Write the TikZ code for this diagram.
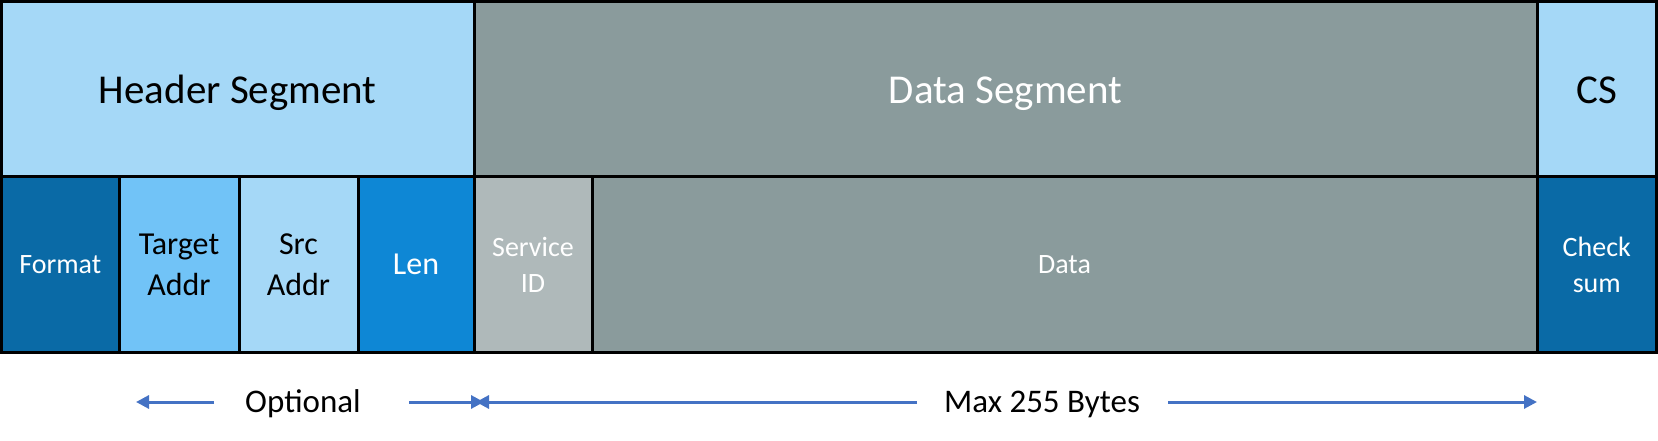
\documentclass[tikz,border=0pt]{standalone}
\usepackage{fontspec}
\setmainfont{Carlito}
\usetikzlibrary{arrows.meta}
\definecolor{lightblue}{HTML}{A5D8F7}
\definecolor{midblue}{HTML}{71C3F7}
\definecolor{darkblue}{HTML}{0A6AA6}
\definecolor{lenblue}{HTML}{0E87D5}
\definecolor{dgray}{HTML}{8A9B9C}
\definecolor{lgray}{HTML}{AFB9BA}
\definecolor{arrowblue}{HTML}{4472C4}
\tikzset{
  seg/.style={draw=black, line width=3pt, inner sep=0pt, align=center},
  bigtxt/.style={font=\fontsize{41}{48}\selectfont, text height=28.5pt, text depth=0pt},
  medtxt/.style={font=\fontsize{32}{41}\selectfont},
  smalltxt/.style={font=\fontsize{28}{36}\selectfont},
  lbl/.style={font=\fontsize{33}{40}\selectfont, anchor=base, inner sep=0pt},
  arr/.style={draw=arrowblue, line width=3pt, -{Triangle[length=13pt,width=13pt]}}
}
\begin{document}
\begin{tikzpicture}[x=1pt,y=-1pt]
\useasboundingbox (0,0) rectangle (1658,441);
% top row
\node[seg, bigtxt, fill=lightblue, minimum width=472.5pt, minimum height=175.5pt] (hdr) at (237.75,89.25) {Header Segment};
\node[seg, bigtxt, fill=dgray, text=white, minimum width=1063pt, minimum height=175.5pt] (dseg) at (1005.5,89.25) {Data Segment};
\node[seg, bigtxt, fill=lightblue, minimum width=119.5pt, minimum height=175.5pt] (cs) at (1596.75,89.25) {CS};
% bottom row
\node[seg, smalltxt, fill=darkblue, text=white, minimum width=117.5pt, minimum height=175pt] (fmt) at (60.25,264.5) {Format};
\node[seg, medtxt, fill=midblue, minimum width=120pt, minimum height=175pt] (tgt) at (179,264.5) {Target\\Addr};
\node[seg, medtxt, fill=lightblue, minimum width=119pt, minimum height=175pt] (src) at (298.5,264.5) {Src\\Addr};
\node[seg, medtxt, fill=lenblue, text=white, minimum width=116pt, minimum height=175pt] (len) at (416,264.5) {Len};
\node[seg, smalltxt, fill=lgray, text=white, minimum width=118pt, minimum height=175pt] (sid) at (533,264.5) {Service\\ID};
\node[seg, smalltxt, fill=dgray, text=white, minimum width=945pt, minimum height=175pt] (data) at (1064.5,264.5) {Data};
\node[seg, smalltxt, fill=darkblue, text=white, minimum width=119.5pt, minimum height=175pt] (chk) at (1596.75,264.5) {Check\\sum};
% bottom labels
\node[lbl] (opt) at (303,412) {Optional};
\node[lbl] (max) at (1042,412) {Max 255 Bytes};
\coordinate (o1) at (214,402);
\coordinate (o1t) at (136,402);
\coordinate (o2) at (409,402);
\coordinate (o2t) at (484,402);
\coordinate (m1) at (917,402);
\coordinate (m1t) at (476,402);
\coordinate (m2) at (1168,402);
\coordinate (m2t) at (1537,402);
\draw[arr] (o1) -- (o1t);
\draw[arr] (o2) -- (o2t);
\draw[arr] (m1) -- (m1t);
\draw[arr] (m2) -- (m2t);
\end{tikzpicture}
\end{document}
